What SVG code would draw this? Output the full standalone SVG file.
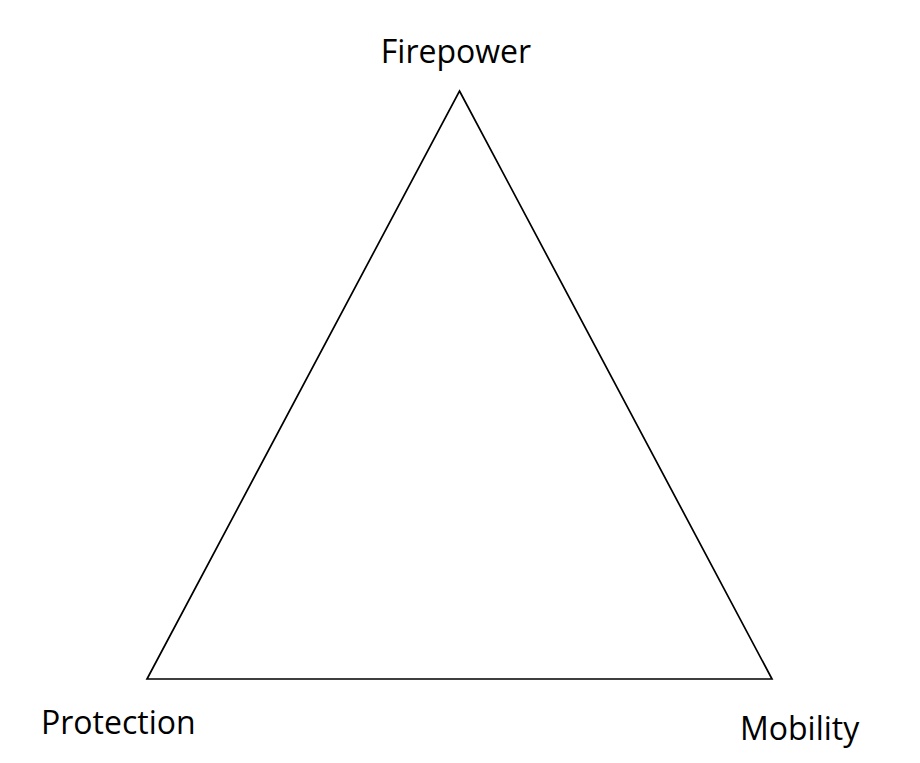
<svg xmlns="http://www.w3.org/2000/svg" width="920" height="763" viewBox="0 0 920 763">
<style>
.lbl{font-family:"Open Sans","Liberation Sans",sans-serif;font-size:32px;fill:#000}
.edge{fill:none;stroke:#000;stroke-width:1.7;stroke-linejoin:miter}
</style>
<rect width="920" height="763" fill="#fff"/>
<g id="connectors">
<polygon class="edge" points="459.5,91 772,679 147,679"/>
</g>
<g id="node-firepower"><text class="lbl" x="456" y="63" text-anchor="middle">Firepower</text></g>
<g id="node-protection"><text class="lbl" x="41" y="734">Protection</text></g>
<g id="node-mobility"><text class="lbl" x="740" y="740">Mobility</text></g>
</svg>
